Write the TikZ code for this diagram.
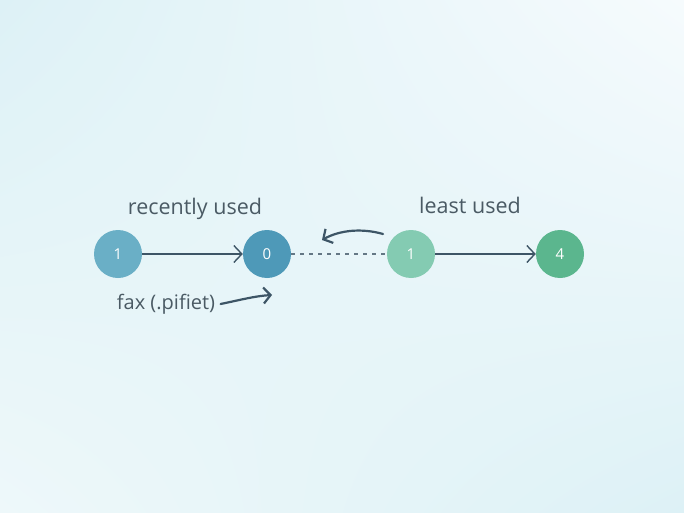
\documentclass[tikz,border=0pt]{standalone}
\usepackage{fontspec}
\setmainfont{Open Sans}
\usetikzlibrary{positioning,arrows.meta,shadings}
\definecolor{bgcyan}{HTML}{DDF1F6}
\definecolor{bgpale}{HTML}{F6FBFD}
\definecolor{bglow}{HTML}{EEF8FA}
\definecolor{nodeA}{HTML}{6AAFC6}
\definecolor{nodeB}{HTML}{4E99B8}
\definecolor{nodeC}{HTML}{84CBB2}
\definecolor{nodeD}{HTML}{5BB68E}
\definecolor{inkline}{HTML}{3D5566}
\definecolor{inktext}{HTML}{4A5A64}

\begin{document}
\begin{tikzpicture}[x=1pt, y=-1pt, node distance=2mm and 20mm]
\tikzset{listnode/.style={circle,minimum size=48pt,inner sep=0,text=white,font=\fontsize{15}{18}\selectfont},
toplabel/.style={text=inktext,font=\fontsize{21.5}{26}\selectfont},
link/.style={draw=inkline,line width=1.4pt,-{Straight Barb[length=8pt,width=17pt,line width=1.4pt]}},
bentlink/.style={draw=inkline,line width=2.2pt,line cap=round,-{Straight Barb[length=7pt,width=16pt]}}}

% background
\useasboundingbox (0,0) rectangle (684,513);
\shade[upper left=bgcyan, upper right=bgpale, lower left=bglow, lower right=bgcyan] (0,0) rectangle (684,513);

\node (n1) [listnode,fill=nodeA] at (118,254) {1};
\node (n0) [listnode,fill=nodeB] at (267,254) {0};
\node (m1) [listnode,fill=nodeC] at (411,254) {1};
\node (n4) [listnode,fill=nodeD] at (560,254) {4};

\node (recent) [toplabel] at (195,209) {recently used};
\node (least) [toplabel] at (470,205) {least used};
\node (fax) [toplabel,font=\fontsize{20}{24}\selectfont] at (166,304) {fax (.pifiet)};

\coordinate (backtail) at (383,234);
\coordinate (backtip) at (322,240);
\coordinate (faxtip) at (272,295);

%% Edges
\draw [link] (n1) -- (n0);
\draw [link] (m1) -- (n4);
\draw [inkline!80,line width=1.2pt,dash pattern=on 4pt off 5pt] (n0) -- (m1);
\draw [bentlink] (backtail) .. controls (362,228) and (340,230) .. (backtip);
\draw [bentlink] ([xshift=2pt]fax.east) .. controls (240,300) and (255,296) .. (faxtip);

\end{tikzpicture}
\end{document}
